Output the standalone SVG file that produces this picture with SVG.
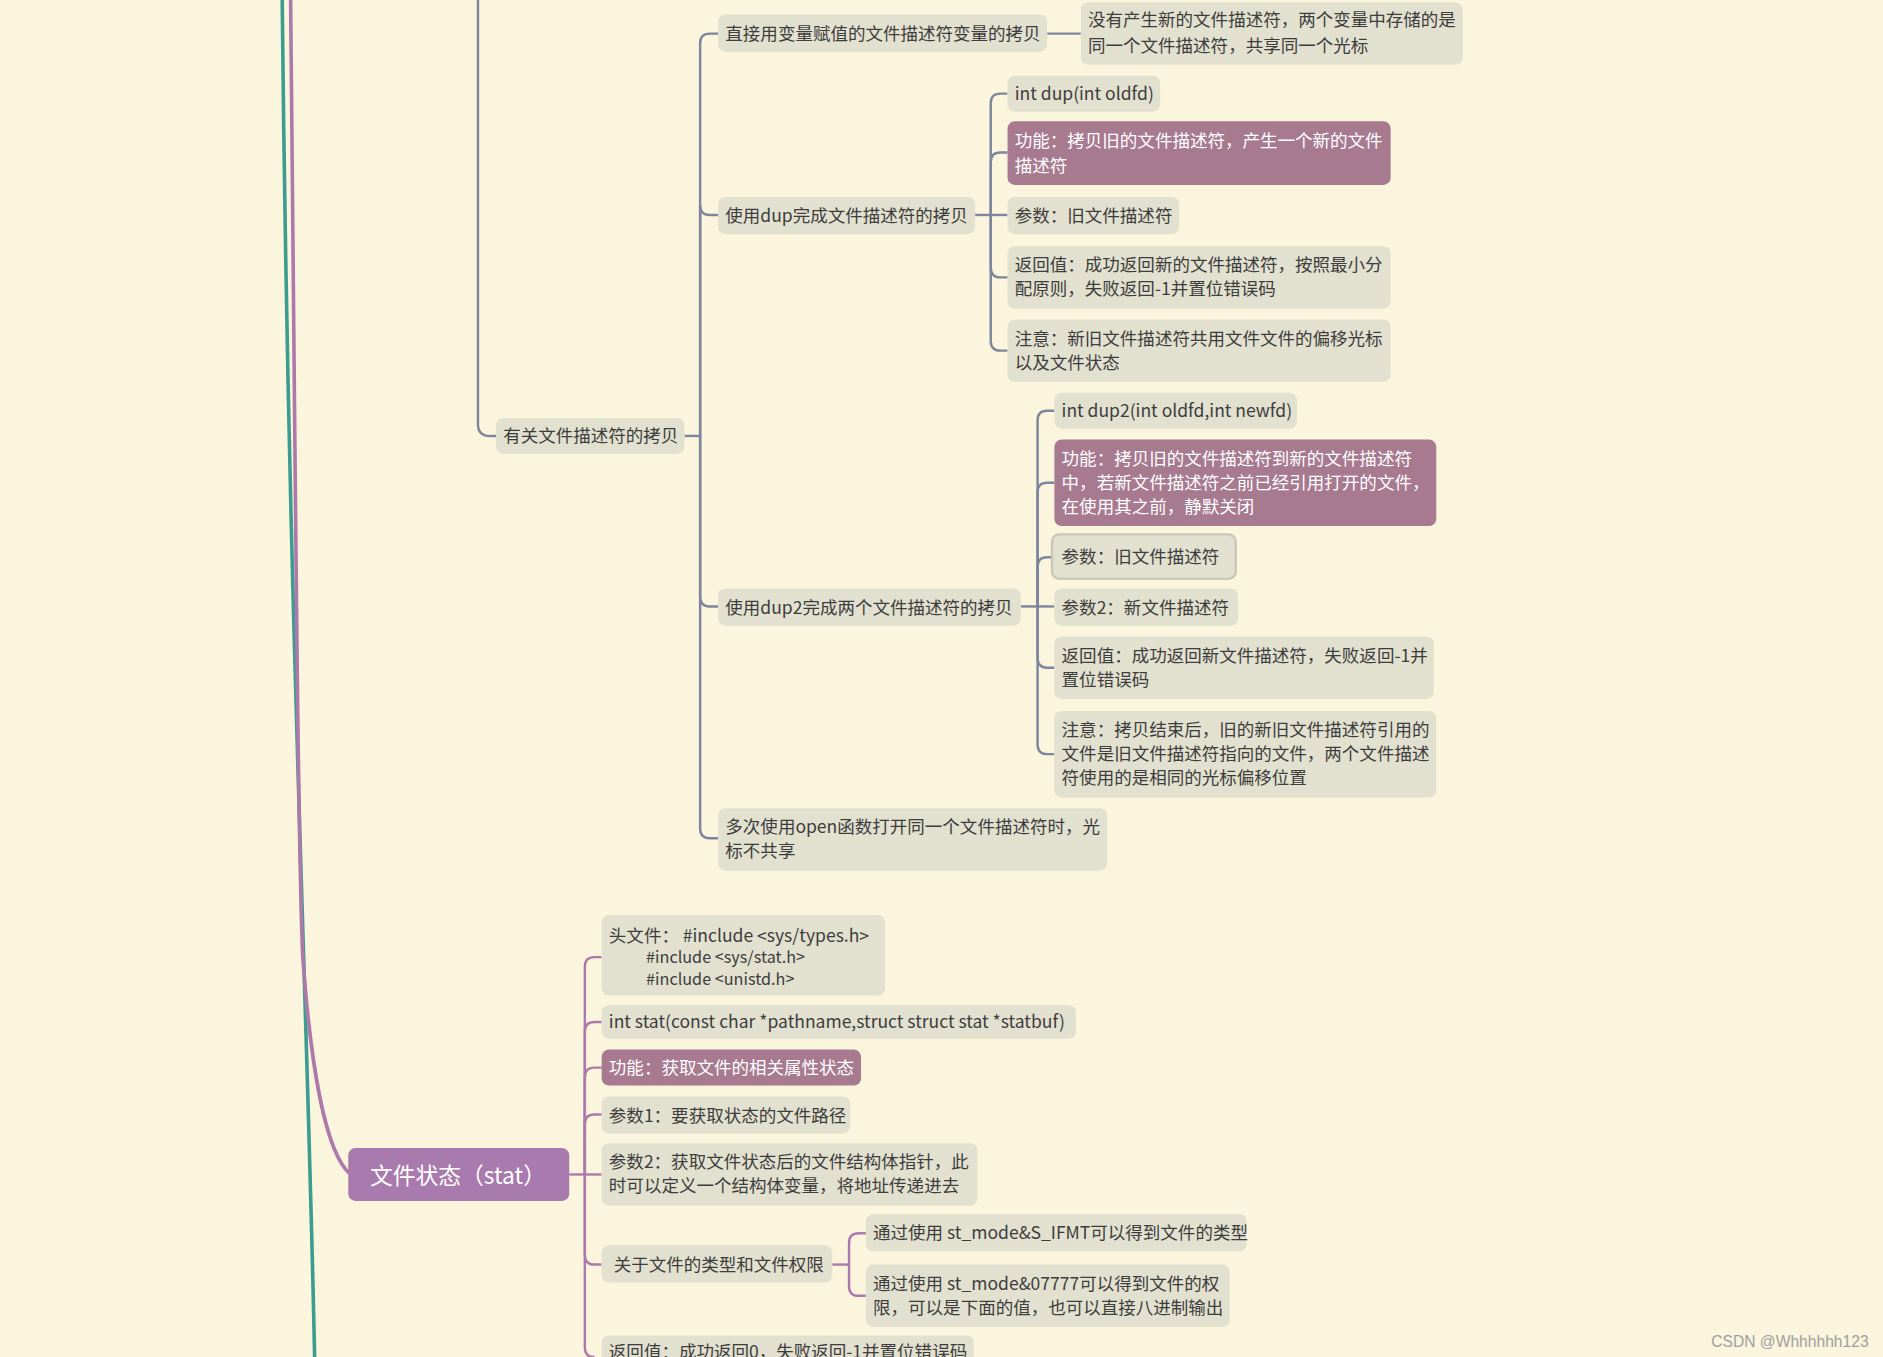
<svg xmlns="http://www.w3.org/2000/svg" width="1883" height="1357" viewBox="0 0 1883 1357">
<style>
.n{fill:#e2e0cf}
.p{fill:#a77a90}
.t{font-family:"Noto Sans CJK SC","Noto Sans",sans-serif;font-size:14.6px;fill:#3d3d3d}
.w{font-family:"Noto Sans CJK SC","Noto Sans",sans-serif;font-size:14.6px;fill:#ffffff}
.h{font-size:13.5px}
.g{fill:none;stroke:#7d869c;stroke-width:2}
.v{fill:none;stroke:#ad79ab;stroke-width:2}
</style>
<rect width="1883" height="1357" fill="#faf5dc"/>
<g transform="scale(1.2009)">
<g id="connectors">
<path d="M235,0 C240,500 255,800 262,1130" fill="none" stroke="#3d9c90" stroke-width="3"/>
<path d="M242,0 C246,400 248,700 252,795 C258,880 270,960 292,978" fill="none" stroke="#ad79ab" stroke-width="3"/>
<path class="g" d="M398,0 V353 Q398,363 408,363 H413"/>
<path class="g" d="M570,363 H583"/>
<path class="g" d="M583,363 V36 Q583,28 591,28 H598"/>
<path class="g" d="M583,363 V171 Q583,179 591,179 H598"/>
<path class="g" d="M583,363 V497 Q583,505 591,505 H598"/>
<path class="g" d="M583,363 V690 Q583,698 591,698 H598"/>
<path class="g" d="M872,28 H900"/>
<path class="g" d="M812,179 H825"/>
<path class="g" d="M825,179 V86 Q825,78 833,78 H839"/>
<path class="g" d="M825,179 V135 Q825,127 833,127 H839"/>
<path class="g" d="M825,179 H839"/>
<path class="g" d="M825,179 V223 Q825,231 833,231 H839"/>
<path class="g" d="M825,179 V284 Q825,292 833,292 H839"/>
<path class="g" d="M850,505 H864"/>
<path class="g" d="M864,505 V350 Q864,342 872,342 H878"/>
<path class="g" d="M864,505 V410 Q864,402 872,402 H878"/>
<path class="g" d="M864,505 V472 Q864,464 872,464 H878"/>
<path class="g" d="M864,505 H878"/>
<path class="g" d="M864,505 V548 Q864,556 872,556 H878"/>
<path class="g" d="M864,505 V620 Q864,628 872,628 H878"/>
<path class="v" d="M474,978 H487"/>
<path class="v" d="M487,978 V805 Q487,797 495,797 H501"/>
<path class="v" d="M487,978 V859 Q487,851 495,851 H501"/>
<path class="v" d="M487,978 V897 Q487,889 495,889 H501"/>
<path class="v" d="M487,978 V936 Q487,928 495,928 H501"/>
<path class="v" d="M487,978 H501"/>
<path class="v" d="M487,978 V1045 Q487,1053 495,1053 H501"/>
<path class="v" d="M487,978 V1122 Q487,1130 495,1130"/>
<path class="v" d="M693,1053 H707"/>
<path class="v" d="M707,1053 V1035 Q707,1027 715,1027 H721"/>
<path class="v" d="M707,1053 V1071 Q707,1079 715,1079 H721"/>
</g>
<g id="n-copy"><rect class="n" x="413" y="348" width="157" height="30" rx="6"/><text class="t" x="419" y="368">有关文件描述符的拷贝</text></g>
<g id="n-assign"><rect class="n" x="598" y="12" width="274" height="31" rx="6"/><text class="t" x="604" y="33">直接用变量赋值的文件描述符变量的拷贝</text></g>
<g id="n-assign-c"><rect class="n" x="900" y="2" width="318" height="52" rx="6"/><text class="t" x="906" y="22">没有产生新的文件描述符，两个变量中存储的是</text><text class="t" x="906" y="43">同一个文件描述符，共享同一个光标</text></g>
<g id="n-dup"><rect class="n" x="598" y="164" width="214" height="31" rx="6"/><text class="t" x="604" y="185">使用dup完成文件描述符的拷贝</text></g>
<g id="n-dup1"><rect class="n" x="839" y="63" width="127" height="30" rx="6"/><text class="t" x="845" y="83">int dup(int oldfd)</text></g>
<g id="n-dup2f"><rect class="p" x="839" y="101" width="319" height="53" rx="6"/><text class="w" x="845" y="122">功能：拷贝旧的文件描述符，产生一个新的文件</text><text class="w" x="845" y="143">描述符</text></g>
<g id="n-dup3"><rect class="n" x="839" y="164" width="143" height="31" rx="6"/><text class="t" x="845" y="185">参数：旧文件描述符</text></g>
<g id="n-dup4"><rect class="n" x="839" y="205" width="319" height="52" rx="6"/><text class="t" x="845" y="226">返回值：成功返回新的文件描述符，按照最小分</text><text class="t" x="845" y="246">配原则，失败返回-1并置位错误码</text></g>
<g id="n-dup5"><rect class="n" x="839" y="266" width="319" height="52" rx="6"/><text class="t" x="845" y="287">注意：新旧文件描述符共用文件文件的偏移光标</text><text class="t" x="845" y="307">以及文件状态</text></g>
<g id="n-dup2"><rect class="n" x="598" y="490" width="252" height="31" rx="6"/><text class="t" x="604" y="511">使用dup2完成两个文件描述符的拷贝</text></g>
<g id="n-d21"><rect class="n" x="878" y="327" width="202" height="30" rx="6"/><text class="t" x="884" y="347">int dup2(int oldfd,int newfd)</text></g>
<g id="n-d22"><rect class="p" x="878" y="366" width="318" height="72" rx="6"/><text class="w" x="884" y="387">功能：拷贝旧的文件描述符到新的文件描述符</text><text class="w" x="884" y="407">中，若新文件描述符之前已经引用打开的文件，</text><text class="w" x="884" y="427">在使用其之前，静默关闭</text></g>
<g id="n-d23"><rect class="n" x="876" y="445" width="153" height="37" rx="6" stroke="#c9c7b6" stroke-width="2"/><rect class="n" x="879" y="448" width="147" height="31" rx="5"/><text class="t" x="884" y="469">参数：旧文件描述符</text></g>
<g id="n-d24"><rect class="n" x="878" y="490" width="153" height="31" rx="6"/><text class="t" x="884" y="511">参数2：新文件描述符</text></g>
<g id="n-d25"><rect class="n" x="878" y="530" width="316" height="52" rx="6"/><text class="t" x="884" y="551">返回值：成功返回新文件描述符，失败返回-1并</text><text class="t" x="884" y="571">置位错误码</text></g>
<g id="n-d26"><rect class="n" x="878" y="592" width="318" height="72" rx="6"/><text class="t" x="884" y="613">注意：拷贝结束后，旧的新旧文件描述符引用的</text><text class="t" x="884" y="633">文件是旧文件描述符指向的文件，两个文件描述</text><text class="t" x="884" y="653">符使用的是相同的光标偏移位置</text></g>
<g id="n-open"><rect class="n" x="598" y="673" width="324" height="52" rx="6"/><text class="t" x="604" y="694">多次使用open函数打开同一个文件描述符时，光</text><text class="t" x="604" y="714">标不共享</text></g>
<g id="n-stat"><rect x="290" y="956" width="184" height="44" rx="6" fill="#a97aad"/><text x="308" y="986" font-family="'Noto Sans CJK SC',sans-serif" font-size="19" fill="#fff">文件状态（stat）</text></g>
<g id="n-s1"><rect class="n" x="501" y="762" width="236" height="67" rx="6"/><text class="t" x="507" y="784">头文件：  #include &lt;sys/types.h&gt;</text><text class="t h" x="538" y="802">#include &lt;sys/stat.h&gt;</text><text class="t h" x="538" y="820">#include &lt;unistd.h&gt;</text></g>
<g id="n-s2"><rect class="n" x="501" y="837" width="395" height="28" rx="6"/><text class="t" x="507" y="856">int stat(const char *pathname,struct struct stat *statbuf)</text></g>
<g id="n-s3"><rect class="p" x="501" y="874" width="216" height="30" rx="6"/><text class="w" x="507" y="894">功能：获取文件的相关属性状态</text></g>
<g id="n-s4"><rect class="n" x="501" y="913" width="207" height="31" rx="6"/><text class="t" x="507" y="934">参数1：要获取状态的文件路径</text></g>
<g id="n-s5"><rect class="n" x="501" y="952" width="313" height="52" rx="6"/><text class="t" x="507" y="973">参数2：获取文件状态后的文件结构体指针，此</text><text class="t" x="507" y="993">时可以定义一个结构体变量，将地址传递进去</text></g>
<g id="n-s6"><rect class="n" x="501" y="1037" width="192" height="31" rx="6"/><text class="t" x="511" y="1058">关于文件的类型和文件权限</text></g>
<g id="n-s61"><rect class="n" x="721" y="1011" width="317" height="31" rx="6"/><text class="t" x="727" y="1032">通过使用 st_mode&amp;S_IFMT可以得到文件的类型</text></g>
<g id="n-s62"><rect class="n" x="721" y="1053" width="303" height="52" rx="6"/><text class="t" x="727" y="1074">通过使用 st_mode&amp;07777可以得到文件的权</text><text class="t" x="727" y="1094">限，可以是下面的值，也可以直接八进制输出</text></g>
<g id="n-s7"><rect class="n" x="501" y="1112" width="310" height="30" rx="6"/><text class="t" x="507" y="1131">返回值：成功返回0，失败返回-1并置位错误码</text></g>
<text x="1425" y="1122" font-family="'Liberation Sans',sans-serif" font-size="13" fill="#a0a0a0">CSDN @Whhhhhh123</text>
</g>
</svg>
